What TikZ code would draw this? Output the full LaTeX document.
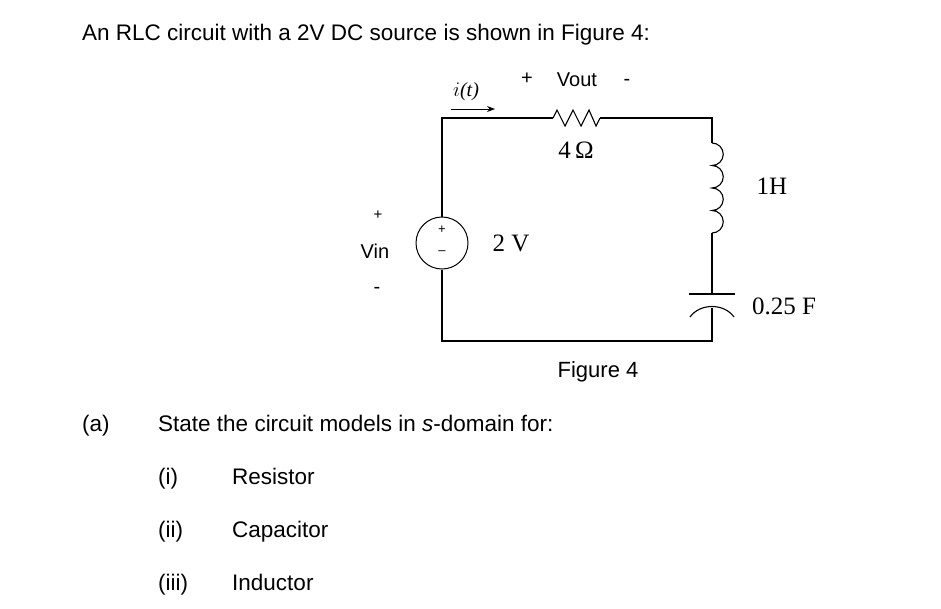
\documentclass[tikz,border=0pt]{standalone}
\usepackage{fontspec}
\usetikzlibrary{arrows.meta}
\setmainfont{Liberation Sans}
\newfontfamily\serif{Liberation Serif}
\begin{document}
\begin{tikzpicture}[x=1pt,y=-1pt,
 txt/.style={font=\fontsize{22.5}{24}\selectfont, anchor=base west, inner sep=0},
 lab/.style={font=\fontsize{20}{22}\selectfont, inner sep=0},
 slab/.style={font=\serif\fontsize{25}{27}\selectfont, inner sep=0},
 wire/.style={line width=1.4pt}]
\useasboundingbox (0,0) rectangle (941,608);
% texts
\node[txt] (t0) at (82,40) {An RLC circuit with a 2V DC source is shown in Figure 4:};
\node[txt] (ta) at (82,431) {(a)};
\node[txt] (tb) at (158,431) {State the circuit models in \textit{s}-domain for:};
\node[txt] (t1) at (158,484) {(i)};
\node[txt] (t1b) at (232,484) {Resistor};
\node[txt] (t2) at (158,537) {(ii)};
\node[txt] (t2b) at (232,537) {Capacitor};
\node[txt] (t3) at (158,590) {(iii)};
\node[txt] (t3b) at (232,590) {Inductor};
\node[lab, font=\fontsize{22}{24}\selectfont] (fig) at (598,372) {Figure 4};
% circuit
\coordinate (tl) at (442,118);
\coordinate (tr) at (712,118);
\coordinate (bl) at (442,341);
\coordinate (br) at (712,341);
\node[draw, circle, line width=1pt, minimum size=52pt, inner sep=0] (src) at (442,243) {};
\node[font=\fontsize{13}{14}\selectfont, inner sep=0] (sp) at (442,230) {+};
\node[font=\fontsize{13}{14}\selectfont, inner sep=0] (sm) at (442,253) {--};
\coordinate (r1) at (553,118);
\coordinate (r2) at (600,118);
\coordinate (l1) at (712,143);
\coordinate (l2) at (712,233);
\coordinate (c1) at (712,294);
\coordinate (c2) at (712,308);
\draw[wire] (src.north) -- (tl) -- (r1);
\draw[line width=1.1pt] (r1) -- ++(4,-8) -- ++(8,16) -- ++(8,-16) -- ++(8,16) -- ++(8,-16) -- ++(7,16) -- (r2);
\draw[wire] (r2) -- (tr) -- (l1);
\draw[line width=1.1pt] (l1) \foreach \i in {1,...,4} { arc[start angle=-90, end angle=90, radius=11.25] };
\draw[wire] (l2) -- (c1);
\draw[line width=1.1pt] (689,294) -- (735,294);
\draw[line width=1.1pt] (690,317) .. controls (700,303) and (724,303) .. (734,317);
\draw[wire] (c2) -- (br) -- (bl) -- (src.south);
% labels
\draw[-{Stealth[length=8pt]}, line width=1pt] (451,109) -- (495,109);
\node[slab, font=\serif\itshape\fontsize{20}{22}\selectfont] (it) at (466,92) {$i$(\textit{t})};
\node[lab] (vp) at (527,79) {+};
\node[lab] (vo) at (577,80) {Vout};
\node[lab] (vm) at (627,82) {-};
\node[slab] (r) at (576,150) {4\,Ω};
\node[slab] (lh) at (772,186) {1H};
\node[slab] (v2) at (511,243) {2 V};
\node[slab] (cf) at (784,306) {0.25 F};
\node[lab, font=\fontsize{15}{16}\selectfont] (ip) at (378,215) {+};
\node[lab] (vin) at (375,251) {Vin};
\node[lab] (im) at (377,290) {-};
\end{tikzpicture}
\end{document}
